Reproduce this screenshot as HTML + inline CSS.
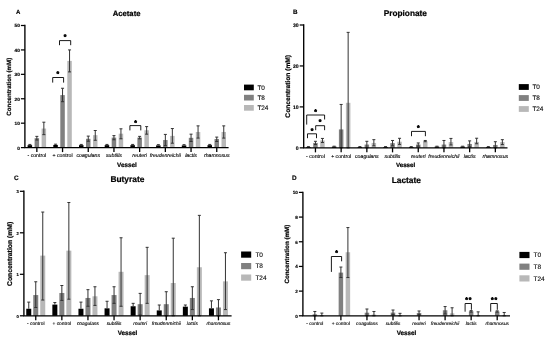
<!DOCTYPE html>
<html lang="en">
<head>
<meta charset="utf-8">
<title>SCFA concentrations</title>
<style>
html,body{margin:0;padding:0;background:#fff;}
body{width:550px;height:339px;overflow:hidden;}
svg{display:block;font-family:"Liberation Sans", sans-serif;fill:#000;}
</style>
</head>
<body>
<svg width="550" height="339" viewBox="0 0 550 339" text-rendering="geometricPrecision">
<rect x="0" y="0" width="550" height="339" fill="#ffffff"/>
<text x="16" y="14.2" font-size="6.0" font-weight="700" stroke="#000" stroke-width="0.15">A</text>
<text x="126.6" y="16.3" font-size="7.7" font-weight="700" stroke="#000" stroke-width="0.2" text-anchor="middle">Acetate</text>
<rect x="27.6" y="145.16" width="4.5" height="2.44" fill="#000000"/>
<path d="M29.85 145.16V144.43M28.35 144.43h3" stroke="#333333" stroke-width="1.0" fill="none"/>
<rect x="34.6" y="138.2" width="4.5" height="9.4" fill="#808080"/>
<path d="M36.85 140.03V136.37M35.35 136.37h3M35.35 140.03h3" stroke="#333333" stroke-width="1.0" fill="none"/>
<rect x="41.6" y="128.55" width="4.5" height="19.05" fill="#b8b8b8"/>
<path d="M43.85 134.66V122.2M42.35 122.2h3M42.35 134.66h3" stroke="#333333" stroke-width="1.0" fill="none"/>
<rect x="53.3" y="144.91" width="4.5" height="2.69" fill="#000000"/>
<path d="M55.55 144.91V144.18M54.05 144.18h3" stroke="#333333" stroke-width="1.0" fill="none"/>
<rect x="60.3" y="95.1" width="4.5" height="52.5" fill="#808080"/>
<path d="M62.55 101.69V88.26M61.05 88.26h3M61.05 101.69h3" stroke="#333333" stroke-width="1.0" fill="none"/>
<rect x="67.3" y="60.91" width="4.5" height="86.69" fill="#b8b8b8"/>
<path d="M69.55 71.9V49.92M68.05 49.92h3M68.05 71.9h3" stroke="#333333" stroke-width="1.0" fill="none"/>
<rect x="79" y="145.16" width="4.5" height="2.44" fill="#000000"/>
<path d="M81.25 145.16V144.43M79.75 144.43h3" stroke="#333333" stroke-width="1.0" fill="none"/>
<rect x="86" y="138.81" width="4.5" height="8.79" fill="#808080"/>
<path d="M88.25 141.25V136.12M86.75 136.12h3M86.75 141.25h3" stroke="#333333" stroke-width="1.0" fill="none"/>
<rect x="93" y="135.15" width="4.5" height="12.45" fill="#b8b8b8"/>
<path d="M95.25 140.27V130.51M93.75 130.51h3M93.75 140.27h3" stroke="#333333" stroke-width="1.0" fill="none"/>
<rect x="104.7" y="145.16" width="4.5" height="2.44" fill="#000000"/>
<path d="M106.95 145.16V144.43M105.45 144.43h3" stroke="#333333" stroke-width="1.0" fill="none"/>
<rect x="111.7" y="137.59" width="4.5" height="10.01" fill="#808080"/>
<path d="M113.95 139.79V135.63M112.45 135.63h3M112.45 139.79h3" stroke="#333333" stroke-width="1.0" fill="none"/>
<rect x="118.7" y="133.68" width="4.5" height="13.92" fill="#b8b8b8"/>
<path d="M120.95 138.81V128.8M119.45 128.8h3M119.45 138.81h3" stroke="#333333" stroke-width="1.0" fill="none"/>
<rect x="130.4" y="145.16" width="4.5" height="2.44" fill="#000000"/>
<path d="M132.65 145.16V144.43M131.15 144.43h3" stroke="#333333" stroke-width="1.0" fill="none"/>
<rect x="137.4" y="137.59" width="4.5" height="10.01" fill="#808080"/>
<path d="M139.65 138.81V136.37M138.15 136.37h3M138.15 138.81h3" stroke="#333333" stroke-width="1.0" fill="none"/>
<rect x="144.4" y="130.26" width="4.5" height="17.34" fill="#b8b8b8"/>
<path d="M146.65 134.17V126.6M145.15 126.6h3M145.15 134.17h3" stroke="#333333" stroke-width="1.0" fill="none"/>
<rect x="156.1" y="145.4" width="4.5" height="2.2" fill="#000000"/>
<path d="M158.35 145.4V144.67M156.85 144.67h3" stroke="#333333" stroke-width="1.0" fill="none"/>
<rect x="163.1" y="140.03" width="4.5" height="7.57" fill="#808080"/>
<path d="M165.35 145.65V134.41M163.85 134.41h3M163.85 145.65h3" stroke="#333333" stroke-width="1.0" fill="none"/>
<rect x="170.1" y="135.88" width="4.5" height="11.72" fill="#b8b8b8"/>
<path d="M172.35 143.2V128.55M170.85 128.55h3M170.85 143.2h3" stroke="#333333" stroke-width="1.0" fill="none"/>
<rect x="181.8" y="145.4" width="4.5" height="2.2" fill="#000000"/>
<path d="M184.05 145.4V144.67M182.55 144.67h3" stroke="#333333" stroke-width="1.0" fill="none"/>
<rect x="188.8" y="137.83" width="4.5" height="9.77" fill="#808080"/>
<path d="M191.05 141.5V134.17M189.55 134.17h3M189.55 141.5h3" stroke="#333333" stroke-width="1.0" fill="none"/>
<rect x="195.8" y="131.97" width="4.5" height="15.63" fill="#b8b8b8"/>
<path d="M198.05 138.08V125.87M196.55 125.87h3M196.55 138.08h3" stroke="#333333" stroke-width="1.0" fill="none"/>
<rect x="207.5" y="145.16" width="4.5" height="2.44" fill="#000000"/>
<path d="M209.75 145.16V144.43M208.25 144.43h3" stroke="#333333" stroke-width="1.0" fill="none"/>
<rect x="214.5" y="139.05" width="4.5" height="8.55" fill="#808080"/>
<path d="M216.75 141.5V137.1M215.25 137.1h3M215.25 141.5h3" stroke="#333333" stroke-width="1.0" fill="none"/>
<rect x="221.5" y="131.97" width="4.5" height="15.63" fill="#b8b8b8"/>
<path d="M223.75 138.08V125.87M222.25 125.87h3M222.25 138.08h3" stroke="#333333" stroke-width="1.0" fill="none"/>
<path d="M24.9 24.82V148.28M24.22 147.6H228.6" stroke="#000000" stroke-width="1.35" fill="none"/>
<path d="M20.9 147.6H24.9" stroke="#000000" stroke-width="1.25"/>
<text x="19.8" y="149.56" font-size="4.7" font-weight="700" stroke="#000" stroke-width="0.15" text-anchor="end">0</text>
<path d="M20.9 123.18H24.9" stroke="#000000" stroke-width="1.25"/>
<text x="19.8" y="125.14" font-size="4.7" font-weight="700" stroke="#000" stroke-width="0.15" text-anchor="end">10</text>
<path d="M20.9 98.76H24.9" stroke="#000000" stroke-width="1.25"/>
<text x="19.8" y="100.72" font-size="4.7" font-weight="700" stroke="#000" stroke-width="0.15" text-anchor="end">20</text>
<path d="M20.9 74.34H24.9" stroke="#000000" stroke-width="1.25"/>
<text x="19.8" y="76.3" font-size="4.7" font-weight="700" stroke="#000" stroke-width="0.15" text-anchor="end">30</text>
<path d="M20.9 49.92H24.9" stroke="#000000" stroke-width="1.25"/>
<text x="19.8" y="51.88" font-size="4.7" font-weight="700" stroke="#000" stroke-width="0.15" text-anchor="end">40</text>
<path d="M20.9 25.5H24.9" stroke="#000000" stroke-width="1.25"/>
<text x="19.8" y="27.46" font-size="4.7" font-weight="700" stroke="#000" stroke-width="0.15" text-anchor="end">50</text>
<path d="M36.85 147.6V152.1" stroke="#000000" stroke-width="1.3"/>
<text x="36.85" y="157.1" font-size="5.2" stroke="#000" stroke-width="0.12" text-anchor="middle">- control</text>
<path d="M62.55 147.6V152.1" stroke="#000000" stroke-width="1.3"/>
<text x="62.55" y="157.1" font-size="5.2" stroke="#000" stroke-width="0.12" text-anchor="middle">+ control</text>
<path d="M88.25 147.6V152.1" stroke="#000000" stroke-width="1.3"/>
<text x="88.25" y="157.1" font-size="5.2" stroke="#000" stroke-width="0.12" font-style="italic" text-anchor="middle">coagulans</text>
<path d="M113.95 147.6V152.1" stroke="#000000" stroke-width="1.3"/>
<text x="113.95" y="157.1" font-size="5.2" stroke="#000" stroke-width="0.12" font-style="italic" text-anchor="middle">subtilis</text>
<path d="M139.65 147.6V152.1" stroke="#000000" stroke-width="1.3"/>
<text x="139.65" y="157.1" font-size="5.2" stroke="#000" stroke-width="0.12" font-style="italic" text-anchor="middle">reuteri</text>
<path d="M165.35 147.6V152.1" stroke="#000000" stroke-width="1.3"/>
<text x="165.35" y="157.1" font-size="5.2" stroke="#000" stroke-width="0.12" font-style="italic" text-anchor="middle">freudenreichii</text>
<path d="M191.05 147.6V152.1" stroke="#000000" stroke-width="1.3"/>
<text x="191.05" y="157.1" font-size="5.2" stroke="#000" stroke-width="0.12" font-style="italic" text-anchor="middle">lactis</text>
<path d="M216.75 147.6V152.1" stroke="#000000" stroke-width="1.3"/>
<text x="216.75" y="157.1" font-size="5.2" stroke="#000" stroke-width="0.12" font-style="italic" text-anchor="middle">rhamnosus</text>
<text x="127" y="167" font-size="6.35" font-weight="700" stroke="#000" stroke-width="0.2" text-anchor="middle">Vessel</text>
<text transform="translate(11.1 86.8) rotate(-90)" font-size="6.15" font-weight="700" stroke="#000" stroke-width="0.2" text-anchor="middle">Concentration (mM)</text>
<path d="M59.5 45.2V40.6H70.7V45.2" stroke="#000" stroke-width="0.9" fill="none"/>
<text x="65.2" y="39.31" font-size="6.8" font-weight="700" stroke="#000" stroke-width="0.55" stroke-linejoin="round" text-anchor="middle">*</text>
<path d="M52.7 82.6V77.5H63.6V82.6" stroke="#000" stroke-width="0.9" fill="none"/>
<text x="57.8" y="76.31" font-size="6.8" font-weight="700" stroke="#000" stroke-width="0.55" stroke-linejoin="round" text-anchor="middle">*</text>
<path d="M129.9 130.4V125.6H140.8V130.4" stroke="#000" stroke-width="0.9" fill="none"/>
<text x="135.5" y="124.61" font-size="6.8" font-weight="700" stroke="#000" stroke-width="0.55" stroke-linejoin="round" text-anchor="middle">*</text>
<rect x="244" y="84.6" width="9.8" height="5.7" fill="#000000"/>
<text x="257.4" y="89.75" font-size="6.4" stroke="#000" stroke-width="0.1">T0</text>
<rect x="244" y="94.8" width="9.8" height="5.7" fill="#808080"/>
<text x="257.4" y="99.95" font-size="6.4" stroke="#000" stroke-width="0.1">T8</text>
<rect x="244" y="105" width="9.8" height="5.7" fill="#b8b8b8"/>
<text x="257.4" y="110.15" font-size="6.4" stroke="#000" stroke-width="0.1">T24</text>
<text x="292.9" y="14" font-size="6.3" font-weight="700" stroke="#000" stroke-width="0.15">B</text>
<text x="405.3" y="15.6" font-size="8.3" font-weight="700" stroke="#000" stroke-width="0.2" text-anchor="middle">Propionate</text>
<rect x="306.2" y="147.03" width="4.5" height="0.82" fill="#000000"/>
<path d="M308.45 147.03V146.62M306.95 146.62h3" stroke="#333333" stroke-width="1.0" fill="none"/>
<rect x="313.2" y="142.94" width="4.5" height="4.91" fill="#808080"/>
<path d="M315.45 144.57V141.3M313.95 141.3h3M313.95 144.57h3" stroke="#333333" stroke-width="1.0" fill="none"/>
<rect x="320.2" y="140.48" width="4.5" height="7.37" fill="#b8b8b8"/>
<path d="M322.45 142.53V138.43M320.95 138.43h3M320.95 142.53h3" stroke="#333333" stroke-width="1.0" fill="none"/>
<rect x="331.9" y="146.62" width="4.5" height="1.23" fill="#000000"/>
<path d="M334.15 146.62V146.21M332.65 146.21h3" stroke="#333333" stroke-width="1.0" fill="none"/>
<rect x="338.9" y="129.42" width="4.5" height="18.43" fill="#808080"/>
<path d="M341.15 147.85V104.44M339.65 104.44h3M339.65 147.85h3" stroke="#333333" stroke-width="1.0" fill="none"/>
<rect x="345.9" y="102.81" width="4.5" height="45.04" fill="#b8b8b8"/>
<path d="M348.15 147.85V32.37M346.65 32.37h3M346.65 147.85h3" stroke="#333333" stroke-width="1.0" fill="none"/>
<rect x="357.6" y="147.03" width="4.5" height="0.82" fill="#000000"/>
<path d="M359.85 147.03V146.62M358.35 146.62h3" stroke="#333333" stroke-width="1.0" fill="none"/>
<rect x="364.6" y="144.57" width="4.5" height="3.28" fill="#808080"/>
<path d="M366.85 147.85V141.3M365.35 141.3h3M365.35 147.85h3" stroke="#333333" stroke-width="1.0" fill="none"/>
<rect x="371.6" y="142.94" width="4.5" height="4.91" fill="#b8b8b8"/>
<path d="M373.85 145.8V139.66M372.35 139.66h3M372.35 145.8h3" stroke="#333333" stroke-width="1.0" fill="none"/>
<rect x="383.3" y="147.03" width="4.5" height="0.82" fill="#000000"/>
<path d="M385.55 147.03V146.62M384.05 146.62h3" stroke="#333333" stroke-width="1.0" fill="none"/>
<rect x="390.3" y="143.14" width="4.5" height="4.71" fill="#808080"/>
<path d="M392.55 145.8V140.48M391.05 140.48h3M391.05 145.8h3" stroke="#333333" stroke-width="1.0" fill="none"/>
<rect x="397.3" y="141.71" width="4.5" height="6.14" fill="#b8b8b8"/>
<path d="M399.55 144.37V138.31M398.05 138.31h3M398.05 144.37h3" stroke="#333333" stroke-width="1.0" fill="none"/>
<rect x="409" y="147.03" width="4.5" height="0.82" fill="#000000"/>
<path d="M411.25 147.03V146.62M409.75 146.62h3" stroke="#333333" stroke-width="1.0" fill="none"/>
<rect x="416" y="144.57" width="4.5" height="3.28" fill="#808080"/>
<path d="M418.25 146.21V142.94M416.75 142.94h3M416.75 146.21h3" stroke="#333333" stroke-width="1.0" fill="none"/>
<rect x="423" y="141.3" width="4.5" height="6.55" fill="#b8b8b8"/>
<path d="M425.25 141.71V140.48M423.75 140.48h3M423.75 141.71h3" stroke="#333333" stroke-width="1.0" fill="none"/>
<rect x="434.7" y="146.62" width="4.5" height="1.23" fill="#000000"/>
<path d="M436.95 146.62V146.21M435.45 146.21h3" stroke="#333333" stroke-width="1.0" fill="none"/>
<rect x="441.7" y="144.57" width="4.5" height="3.28" fill="#808080"/>
<path d="M443.95 147.85V140.48M442.45 140.48h3M442.45 147.85h3" stroke="#333333" stroke-width="1.0" fill="none"/>
<rect x="448.7" y="142.12" width="4.5" height="5.73" fill="#b8b8b8"/>
<path d="M450.95 144.98V138.43M449.45 138.43h3M449.45 144.98h3" stroke="#333333" stroke-width="1.0" fill="none"/>
<rect x="460.4" y="146.62" width="4.5" height="1.23" fill="#000000"/>
<path d="M462.65 146.62V146.21M461.15 146.21h3" stroke="#333333" stroke-width="1.0" fill="none"/>
<rect x="467.4" y="143.96" width="4.5" height="3.89" fill="#808080"/>
<path d="M469.65 146.83V140.89M468.15 140.89h3M468.15 146.83h3" stroke="#333333" stroke-width="1.0" fill="none"/>
<rect x="474.4" y="141.91" width="4.5" height="5.94" fill="#b8b8b8"/>
<path d="M476.65 143.75V138.23M475.15 138.23h3M475.15 143.75h3" stroke="#333333" stroke-width="1.0" fill="none"/>
<rect x="486.1" y="147.03" width="4.5" height="0.82" fill="#000000"/>
<path d="M488.35 147.03V146.62M486.85 146.62h3" stroke="#333333" stroke-width="1.0" fill="none"/>
<rect x="493.1" y="144.98" width="4.5" height="2.87" fill="#808080"/>
<path d="M495.35 147.85V141.71M493.85 141.71h3M493.85 147.85h3" stroke="#333333" stroke-width="1.0" fill="none"/>
<rect x="500.1" y="142.12" width="4.5" height="5.73" fill="#b8b8b8"/>
<path d="M502.35 144.57V139.66M500.85 139.66h3M500.85 144.57h3" stroke="#333333" stroke-width="1.0" fill="none"/>
<path d="M303.7 24.32V148.53M303.02 147.85H507.5" stroke="#000000" stroke-width="1.35" fill="none"/>
<path d="M299.7 147.85H303.7" stroke="#000000" stroke-width="1.25"/>
<text x="298.6" y="149.95" font-size="5.1" font-weight="700" stroke="#000" stroke-width="0.15" text-anchor="end">0</text>
<path d="M299.7 106.9H303.7" stroke="#000000" stroke-width="1.25"/>
<text x="298.6" y="109" font-size="5.1" font-weight="700" stroke="#000" stroke-width="0.15" text-anchor="end">10</text>
<path d="M299.7 65.95H303.7" stroke="#000000" stroke-width="1.25"/>
<text x="298.6" y="68.05" font-size="5.1" font-weight="700" stroke="#000" stroke-width="0.15" text-anchor="end">20</text>
<path d="M299.7 25H303.7" stroke="#000000" stroke-width="1.25"/>
<text x="298.6" y="27.1" font-size="5.1" font-weight="700" stroke="#000" stroke-width="0.15" text-anchor="end">30</text>
<path d="M315.45 147.85V152.35" stroke="#000000" stroke-width="1.3"/>
<text x="315.45" y="157.75" font-size="5.2" stroke="#000" stroke-width="0.12" text-anchor="middle">- control</text>
<path d="M341.15 147.85V152.35" stroke="#000000" stroke-width="1.3"/>
<text x="341.15" y="157.75" font-size="5.2" stroke="#000" stroke-width="0.12" text-anchor="middle">+ control</text>
<path d="M366.85 147.85V152.35" stroke="#000000" stroke-width="1.3"/>
<text x="366.85" y="157.75" font-size="5.2" stroke="#000" stroke-width="0.12" font-style="italic" text-anchor="middle">coagulans</text>
<path d="M392.55 147.85V152.35" stroke="#000000" stroke-width="1.3"/>
<text x="392.55" y="157.75" font-size="5.2" stroke="#000" stroke-width="0.12" font-style="italic" text-anchor="middle">subtilis</text>
<path d="M418.25 147.85V152.35" stroke="#000000" stroke-width="1.3"/>
<text x="418.25" y="157.75" font-size="5.2" stroke="#000" stroke-width="0.12" font-style="italic" text-anchor="middle">reuteri</text>
<path d="M443.95 147.85V152.35" stroke="#000000" stroke-width="1.3"/>
<text x="443.95" y="157.75" font-size="5.2" stroke="#000" stroke-width="0.12" font-style="italic" text-anchor="middle">freudenreichii</text>
<path d="M469.65 147.85V152.35" stroke="#000000" stroke-width="1.3"/>
<text x="469.65" y="157.75" font-size="5.2" stroke="#000" stroke-width="0.12" font-style="italic" text-anchor="middle">lactis</text>
<path d="M495.35 147.85V152.35" stroke="#000000" stroke-width="1.3"/>
<text x="495.35" y="157.75" font-size="5.2" stroke="#000" stroke-width="0.12" font-style="italic" text-anchor="middle">rhamnosus</text>
<text x="405.6" y="167.05" font-size="6.2" font-weight="700" stroke="#000" stroke-width="0.2" text-anchor="middle">Vessel</text>
<text transform="translate(289.8 86.3) rotate(-90)" font-size="6.65" font-weight="700" stroke="#000" stroke-width="0.2" text-anchor="middle">Concentration (mM)</text>
<path d="M307.5 138.2V133.8H316.5V138.2" stroke="#000" stroke-width="0.9" fill="none"/>
<text x="312.1" y="132.61" font-size="6.8" font-weight="700" stroke="#000" stroke-width="0.55" stroke-linejoin="round" text-anchor="middle">*</text>
<path d="M315.7 130.2V125.7H324.6V130.2" stroke="#000" stroke-width="0.9" fill="none"/>
<text x="320.2" y="124.31" font-size="6.8" font-weight="700" stroke="#000" stroke-width="0.55" stroke-linejoin="round" text-anchor="middle">*</text>
<path d="M306.7 124.6V115H324.6V119.5" stroke="#000" stroke-width="0.9" fill="none"/>
<text x="315.5" y="113.71" font-size="6.8" font-weight="700" stroke="#000" stroke-width="0.55" stroke-linejoin="round" text-anchor="middle">*</text>
<path d="M411.5 136.2V131.4H425.4V136.2" stroke="#000" stroke-width="0.9" fill="none"/>
<text x="418.3" y="129.71" font-size="6.8" font-weight="700" stroke="#000" stroke-width="0.55" stroke-linejoin="round" text-anchor="middle">*</text>
<rect x="518.8" y="84.1" width="10" height="5.8" fill="#000000"/>
<text x="532.4" y="89.3" font-size="6.4" stroke="#000" stroke-width="0.1">T0</text>
<rect x="518.8" y="95.1" width="10" height="5.8" fill="#808080"/>
<text x="532.4" y="100.3" font-size="6.4" stroke="#000" stroke-width="0.1">T8</text>
<rect x="518.8" y="106.1" width="10" height="5.8" fill="#b8b8b8"/>
<text x="532.4" y="111.3" font-size="6.4" stroke="#000" stroke-width="0.1">T24</text>
<text x="14" y="180.2" font-size="6.5" font-weight="700" stroke="#000" stroke-width="0.15">C</text>
<text x="127.4" y="182.3" font-size="8.4" font-weight="700" stroke="#000" stroke-width="0.2" text-anchor="middle">Butyrate</text>
<rect x="26.25" y="308.75" width="5" height="7.06" fill="#000000"/>
<path d="M28.75 308.75V302.11M27.25 302.11h3" stroke="#333333" stroke-width="1.0" fill="none"/>
<rect x="33.25" y="295.05" width="5" height="20.75" fill="#808080"/>
<path d="M35.75 307.5V281.77M34.25 281.77h3M34.25 307.5h3" stroke="#333333" stroke-width="1.0" fill="none"/>
<rect x="40.25" y="255.62" width="5" height="60.18" fill="#b8b8b8"/>
<path d="M42.75 300.03V212.05M41.25 212.05h3M41.25 300.03h3" stroke="#333333" stroke-width="1.0" fill="none"/>
<rect x="52.35" y="304.6" width="5" height="11.2" fill="#000000"/>
<path d="M54.85 304.6V302.52M53.35 302.52h3" stroke="#333333" stroke-width="1.0" fill="none"/>
<rect x="59.35" y="292.98" width="5" height="22.82" fill="#808080"/>
<path d="M61.85 300.44V285.5M60.35 285.5h3M60.35 300.44h3" stroke="#333333" stroke-width="1.0" fill="none"/>
<rect x="66.35" y="250.65" width="5" height="65.16" fill="#b8b8b8"/>
<path d="M68.85 299.2V202.5M67.35 202.5h3M67.35 299.2h3" stroke="#333333" stroke-width="1.0" fill="none"/>
<rect x="78.45" y="308.75" width="5" height="7.06" fill="#000000"/>
<path d="M80.95 308.75V302.11M79.45 302.11h3" stroke="#333333" stroke-width="1.0" fill="none"/>
<rect x="85.45" y="297.96" width="5" height="17.84" fill="#808080"/>
<path d="M87.95 306.25V289.66M86.45 289.66h3M86.45 306.25h3" stroke="#333333" stroke-width="1.0" fill="none"/>
<rect x="92.45" y="296.3" width="5" height="19.5" fill="#b8b8b8"/>
<path d="M94.95 305.43V286.75M93.45 286.75h3M93.45 305.43h3" stroke="#333333" stroke-width="1.0" fill="none"/>
<rect x="104.55" y="308.33" width="5" height="7.47" fill="#000000"/>
<path d="M107.05 308.33V301.28M105.55 301.28h3" stroke="#333333" stroke-width="1.0" fill="none"/>
<rect x="111.55" y="295.05" width="5" height="20.75" fill="#808080"/>
<path d="M114.05 303.35V286.75M112.55 286.75h3M112.55 303.35h3" stroke="#333333" stroke-width="1.0" fill="none"/>
<rect x="118.55" y="271.81" width="5" height="43.99" fill="#b8b8b8"/>
<path d="M121.05 306.25V237.78M119.55 237.78h3M119.55 306.25h3" stroke="#333333" stroke-width="1.0" fill="none"/>
<rect x="130.65" y="306.25" width="5" height="9.55" fill="#000000"/>
<path d="M133.15 306.25V303.35M131.65 303.35h3" stroke="#333333" stroke-width="1.0" fill="none"/>
<rect x="137.65" y="304.18" width="5" height="11.62" fill="#808080"/>
<path d="M140.15 314.97V293.39M138.65 293.39h3M138.65 314.97h3" stroke="#333333" stroke-width="1.0" fill="none"/>
<rect x="144.65" y="275.13" width="5" height="40.67" fill="#b8b8b8"/>
<path d="M147.15 303.35V247.33M145.65 247.33h3M145.65 303.35h3" stroke="#333333" stroke-width="1.0" fill="none"/>
<rect x="156.75" y="310.41" width="5" height="5.39" fill="#000000"/>
<path d="M159.25 310.41V305.01M157.75 305.01h3" stroke="#333333" stroke-width="1.0" fill="none"/>
<rect x="163.75" y="304.18" width="5" height="11.62" fill="#808080"/>
<path d="M166.25 315.8V291.73M164.75 291.73h3M164.75 315.8h3" stroke="#333333" stroke-width="1.0" fill="none"/>
<rect x="170.75" y="283.01" width="5" height="32.79" fill="#b8b8b8"/>
<path d="M173.25 315.8V238.19M171.75 238.19h3M171.75 315.8h3" stroke="#333333" stroke-width="1.0" fill="none"/>
<rect x="182.85" y="306.67" width="5" height="9.13" fill="#000000"/>
<path d="M185.35 306.67V305.01M183.85 305.01h3" stroke="#333333" stroke-width="1.0" fill="none"/>
<rect x="189.85" y="297.96" width="5" height="17.84" fill="#808080"/>
<path d="M192.35 309.57V286.75M190.85 286.75h3M190.85 309.57h3" stroke="#333333" stroke-width="1.0" fill="none"/>
<rect x="196.85" y="267.25" width="5" height="48.56" fill="#b8b8b8"/>
<path d="M199.35 315.8V215.37M197.85 215.37h3M197.85 315.8h3" stroke="#333333" stroke-width="1.0" fill="none"/>
<rect x="208.95" y="308.33" width="5" height="7.47" fill="#000000"/>
<path d="M211.45 308.33V300.86M209.95 300.86h3" stroke="#333333" stroke-width="1.0" fill="none"/>
<rect x="215.95" y="307.5" width="5" height="8.3" fill="#808080"/>
<path d="M218.45 315.8V299.62M216.95 299.62h3M216.95 315.8h3" stroke="#333333" stroke-width="1.0" fill="none"/>
<rect x="222.95" y="281.36" width="5" height="34.44" fill="#b8b8b8"/>
<path d="M225.45 309.57V252.72M223.95 252.72h3M223.95 309.57h3" stroke="#333333" stroke-width="1.0" fill="none"/>
<path d="M23.9 190.62V316.48M23.22 315.8H231.6" stroke="#000000" stroke-width="1.35" fill="none"/>
<path d="M19.9 315.8H23.9" stroke="#000000" stroke-width="1.25"/>
<text x="18.8" y="317.58" font-size="4.2" font-weight="700" stroke="#000" stroke-width="0.15" text-anchor="end">0</text>
<path d="M19.9 274.3H23.9" stroke="#000000" stroke-width="1.25"/>
<text x="18.8" y="276.08" font-size="4.2" font-weight="700" stroke="#000" stroke-width="0.15" text-anchor="end">1</text>
<path d="M19.9 232.8H23.9" stroke="#000000" stroke-width="1.25"/>
<text x="18.8" y="234.58" font-size="4.2" font-weight="700" stroke="#000" stroke-width="0.15" text-anchor="end">2</text>
<path d="M19.9 191.3H23.9" stroke="#000000" stroke-width="1.25"/>
<text x="18.8" y="193.08" font-size="4.2" font-weight="700" stroke="#000" stroke-width="0.15" text-anchor="end">3</text>
<path d="M35.75 315.8V320.3" stroke="#000000" stroke-width="1.3"/>
<text x="35.75" y="325.1" font-size="4.85" stroke="#000" stroke-width="0.12" text-anchor="middle">- control</text>
<path d="M61.85 315.8V320.3" stroke="#000000" stroke-width="1.3"/>
<text x="61.85" y="325.1" font-size="4.85" stroke="#000" stroke-width="0.12" text-anchor="middle">+ control</text>
<path d="M87.95 315.8V320.3" stroke="#000000" stroke-width="1.3"/>
<text x="87.95" y="325.1" font-size="4.85" stroke="#000" stroke-width="0.12" font-style="italic" text-anchor="middle">coagulans</text>
<path d="M114.05 315.8V320.3" stroke="#000000" stroke-width="1.3"/>
<text x="114.05" y="325.1" font-size="4.85" stroke="#000" stroke-width="0.12" font-style="italic" text-anchor="middle">subtilis</text>
<path d="M140.15 315.8V320.3" stroke="#000000" stroke-width="1.3"/>
<text x="140.15" y="325.1" font-size="4.85" stroke="#000" stroke-width="0.12" font-style="italic" text-anchor="middle">reuteri</text>
<path d="M166.25 315.8V320.3" stroke="#000000" stroke-width="1.3"/>
<text x="166.25" y="325.1" font-size="4.85" stroke="#000" stroke-width="0.12" font-style="italic" text-anchor="middle">freudenreichii</text>
<path d="M192.35 315.8V320.3" stroke="#000000" stroke-width="1.3"/>
<text x="192.35" y="325.1" font-size="4.85" stroke="#000" stroke-width="0.12" font-style="italic" text-anchor="middle">lactis</text>
<path d="M218.45 315.8V320.3" stroke="#000000" stroke-width="1.3"/>
<text x="218.45" y="325.1" font-size="4.85" stroke="#000" stroke-width="0.12" font-style="italic" text-anchor="middle">rhamnosus</text>
<text x="127.5" y="334.6" font-size="6.3" font-weight="700" stroke="#000" stroke-width="0.2" text-anchor="middle">Vessel</text>
<text transform="translate(12.3 253.9) rotate(-90)" font-size="6.8" font-weight="700" stroke="#000" stroke-width="0.2" text-anchor="middle">Concentration (mM)</text>
<rect x="241.1" y="251.5" width="10.1" height="6.2" fill="#000000"/>
<text x="255.4" y="256.94" font-size="6.5" stroke="#000" stroke-width="0.1">T0</text>
<rect x="241.1" y="263" width="10.1" height="6.2" fill="#808080"/>
<text x="255.4" y="268.44" font-size="6.5" stroke="#000" stroke-width="0.1">T8</text>
<rect x="241.1" y="274.5" width="10.1" height="6.2" fill="#b8b8b8"/>
<text x="255.4" y="279.94" font-size="6.5" stroke="#000" stroke-width="0.1">T24</text>
<text x="291.9" y="180.2" font-size="6.4" font-weight="700" stroke="#000" stroke-width="0.15">D</text>
<text x="406.3" y="182.8" font-size="8.4" font-weight="700" stroke="#000" stroke-width="0.2" text-anchor="middle">Lactate</text>
<rect x="312.6" y="314.32" width="4.5" height="1.48" fill="#808080"/>
<path d="M314.85 315.8V311.48M313.35 311.48h3M313.35 315.8h3" stroke="#333333" stroke-width="1.0" fill="none"/>
<rect x="319.6" y="315.55" width="4.5" height="0.25" fill="#b8b8b8"/>
<path d="M321.85 315.8V313.09M320.35 313.09h3M320.35 315.8h3" stroke="#333333" stroke-width="1.0" fill="none"/>
<rect x="338.65" y="272.61" width="4.5" height="43.19" fill="#808080"/>
<path d="M340.9 277.55V267.06M339.4 267.06h3M339.4 277.55h3" stroke="#333333" stroke-width="1.0" fill="none"/>
<rect x="345.65" y="252.25" width="4.5" height="63.55" fill="#b8b8b8"/>
<path d="M347.9 277.55V227.57M346.4 227.57h3M346.4 277.55h3" stroke="#333333" stroke-width="1.0" fill="none"/>
<rect x="364.7" y="312.72" width="4.5" height="3.08" fill="#808080"/>
<path d="M366.95 315.8V309.01M365.45 309.01h3M365.45 315.8h3" stroke="#333333" stroke-width="1.0" fill="none"/>
<rect x="371.7" y="314.57" width="4.5" height="1.23" fill="#b8b8b8"/>
<path d="M373.95 315.8V311.48M372.45 311.48h3M372.45 315.8h3" stroke="#333333" stroke-width="1.0" fill="none"/>
<rect x="390.75" y="312.59" width="4.5" height="3.21" fill="#808080"/>
<path d="M393 314.57V310M391.5 310h3M391.5 314.57h3" stroke="#333333" stroke-width="1.0" fill="none"/>
<rect x="397.75" y="315.55" width="4.5" height="0.25" fill="#b8b8b8"/>
<path d="M400 315.8V313.33M398.5 313.33h3M398.5 315.8h3" stroke="#333333" stroke-width="1.0" fill="none"/>
<rect x="416.8" y="312.96" width="4.5" height="2.84" fill="#808080"/>
<path d="M419.05 314.57V310.99M417.55 310.99h3M417.55 314.57h3" stroke="#333333" stroke-width="1.0" fill="none"/>
<rect x="442.85" y="310.25" width="4.5" height="5.55" fill="#808080"/>
<path d="M445.1 313.95V306.55M443.6 306.55h3M443.6 313.95h3" stroke="#333333" stroke-width="1.0" fill="none"/>
<rect x="449.85" y="313.33" width="4.5" height="2.47" fill="#b8b8b8"/>
<path d="M452.1 315.8V307.78M450.6 307.78h3M450.6 315.8h3" stroke="#333333" stroke-width="1.0" fill="none"/>
<rect x="468.9" y="311.23" width="4.5" height="4.57" fill="#808080"/>
<path d="M471.15 312.1V310.62M469.65 310.62h3M469.65 312.1h3" stroke="#333333" stroke-width="1.0" fill="none"/>
<rect x="475.9" y="315.55" width="4.5" height="0.25" fill="#b8b8b8"/>
<path d="M478.15 315.8V311.85M476.65 311.85h3M476.65 315.8h3" stroke="#333333" stroke-width="1.0" fill="none"/>
<rect x="494.95" y="311.48" width="4.5" height="4.32" fill="#808080"/>
<path d="M497.2 312.1V310.86M495.7 310.86h3M495.7 312.1h3" stroke="#333333" stroke-width="1.0" fill="none"/>
<rect x="501.95" y="315.55" width="4.5" height="0.25" fill="#b8b8b8"/>
<path d="M504.2 315.8V312.47M502.7 312.47h3M502.7 315.8h3" stroke="#333333" stroke-width="1.0" fill="none"/>
<path d="M302.9 191.72V316.48M302.22 315.8H510" stroke="#000000" stroke-width="1.35" fill="none"/>
<path d="M298.9 315.8H302.9" stroke="#000000" stroke-width="1.25"/>
<text x="297.8" y="317.72" font-size="4.6" font-weight="700" stroke="#000" stroke-width="0.15" text-anchor="end">0</text>
<path d="M298.9 291.12H302.9" stroke="#000000" stroke-width="1.25"/>
<text x="297.8" y="293.04" font-size="4.6" font-weight="700" stroke="#000" stroke-width="0.15" text-anchor="end">2</text>
<path d="M298.9 266.44H302.9" stroke="#000000" stroke-width="1.25"/>
<text x="297.8" y="268.36" font-size="4.6" font-weight="700" stroke="#000" stroke-width="0.15" text-anchor="end">4</text>
<path d="M298.9 241.76H302.9" stroke="#000000" stroke-width="1.25"/>
<text x="297.8" y="243.68" font-size="4.6" font-weight="700" stroke="#000" stroke-width="0.15" text-anchor="end">6</text>
<path d="M298.9 217.08H302.9" stroke="#000000" stroke-width="1.25"/>
<text x="297.8" y="219" font-size="4.6" font-weight="700" stroke="#000" stroke-width="0.15" text-anchor="end">8</text>
<path d="M298.9 192.4H302.9" stroke="#000000" stroke-width="1.25"/>
<text x="297.8" y="194.32" font-size="4.6" font-weight="700" stroke="#000" stroke-width="0.15" text-anchor="end">10</text>
<path d="M314.85 315.8V320.3" stroke="#000000" stroke-width="1.3"/>
<text x="314.85" y="325.3" font-size="4.75" stroke="#000" stroke-width="0.12" text-anchor="middle">- control</text>
<path d="M340.9 315.8V320.3" stroke="#000000" stroke-width="1.3"/>
<text x="340.9" y="325.3" font-size="4.75" stroke="#000" stroke-width="0.12" text-anchor="middle">+ control</text>
<path d="M366.95 315.8V320.3" stroke="#000000" stroke-width="1.3"/>
<text x="366.95" y="325.3" font-size="4.75" stroke="#000" stroke-width="0.12" font-style="italic" text-anchor="middle">coagulans</text>
<path d="M393 315.8V320.3" stroke="#000000" stroke-width="1.3"/>
<text x="393" y="325.3" font-size="4.75" stroke="#000" stroke-width="0.12" font-style="italic" text-anchor="middle">subtilis</text>
<path d="M419.05 315.8V320.3" stroke="#000000" stroke-width="1.3"/>
<text x="419.05" y="325.3" font-size="4.75" stroke="#000" stroke-width="0.12" font-style="italic" text-anchor="middle">reuteri</text>
<path d="M445.1 315.8V320.3" stroke="#000000" stroke-width="1.3"/>
<text x="445.1" y="325.3" font-size="4.75" stroke="#000" stroke-width="0.12" font-style="italic" text-anchor="middle">freudenreichii</text>
<path d="M471.15 315.8V320.3" stroke="#000000" stroke-width="1.3"/>
<text x="471.15" y="325.3" font-size="4.75" stroke="#000" stroke-width="0.12" font-style="italic" text-anchor="middle">lactis</text>
<path d="M497.2 315.8V320.3" stroke="#000000" stroke-width="1.3"/>
<text x="497.2" y="325.3" font-size="4.75" stroke="#000" stroke-width="0.12" font-style="italic" text-anchor="middle">rhamnosus</text>
<text x="406.45" y="334.6" font-size="6.3" font-weight="700" stroke="#000" stroke-width="0.2" text-anchor="middle">Vessel</text>
<text transform="translate(289.3 254.1) rotate(-90)" font-size="6.25" font-weight="700" stroke="#000" stroke-width="0.2" text-anchor="middle">Concentration (mM)</text>
<path d="M331.4 271.9V256.5H341.6V261.3" stroke="#000" stroke-width="0.9" fill="none"/>
<text x="336.5" y="255.41" font-size="6.8" font-weight="700" stroke="#000" stroke-width="0.55" stroke-linejoin="round" text-anchor="middle">*</text>
<path d="M465.1 311.7V303.5H471.4V309.8" stroke="#000" stroke-width="0.9" fill="none"/>
<text x="466.62" y="301.51" font-size="6.8" font-weight="700" stroke="#000" stroke-width="0.55" stroke-linejoin="round" text-anchor="middle">*</text>
<text x="470.17" y="301.51" font-size="6.8" font-weight="700" stroke="#000" stroke-width="0.55" stroke-linejoin="round" text-anchor="middle">*</text>
<path d="M490.7 311.7V303.5H497.3V309.8" stroke="#000" stroke-width="0.9" fill="none"/>
<text x="492.23" y="301.51" font-size="6.8" font-weight="700" stroke="#000" stroke-width="0.55" stroke-linejoin="round" text-anchor="middle">*</text>
<text x="495.77" y="301.51" font-size="6.8" font-weight="700" stroke="#000" stroke-width="0.55" stroke-linejoin="round" text-anchor="middle">*</text>
<rect x="519.4" y="251.9" width="10.1" height="6.2" fill="#000000"/>
<text x="533.5" y="257.34" font-size="6.5" stroke="#000" stroke-width="0.1">T0</text>
<rect x="519.4" y="263.6" width="10.1" height="6.2" fill="#808080"/>
<text x="533.5" y="269.04" font-size="6.5" stroke="#000" stroke-width="0.1">T8</text>
<rect x="519.4" y="275.3" width="10.1" height="6.2" fill="#b8b8b8"/>
<text x="533.5" y="280.74" font-size="6.5" stroke="#000" stroke-width="0.1">T24</text>
</svg>
</body>
</html>
